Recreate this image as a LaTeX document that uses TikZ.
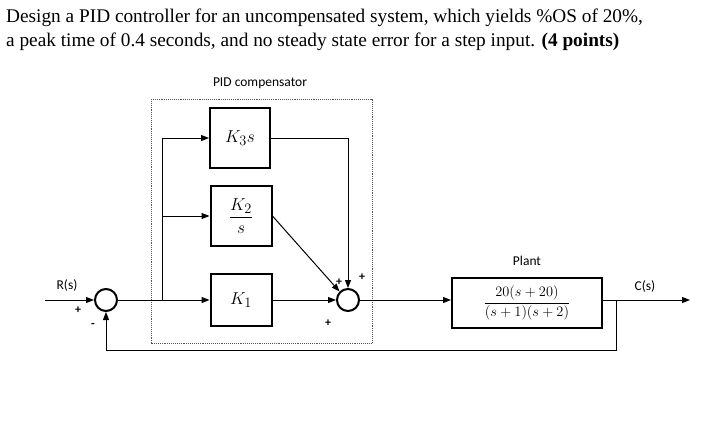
\documentclass[tikz,border=0pt]{standalone}
\usepackage{fontspec}
\setmainfont{Liberation Serif}
\newfontfamily\calfont{Carlito}
\usetikzlibrary{arrows.meta}
\begin{document}
\begin{tikzpicture}[x=1pt,y=-1pt,
  blk/.style={draw,line width=2pt,inner sep=0pt},
  sum/.style={draw,circle,line width=2pt,minimum size=22pt,inner sep=0pt},
  lab/.style={font=\calfont\fontsize{13.5}{13.5}\selectfont},
  pm/.style={font=\calfont\fontsize{12}{12}\selectfont\bfseries},
  sig/.style={-{Triangle[length=8pt,width=6pt]},line width=1pt}]
\useasboundingbox (0,0) rectangle (705,421);
\node[anchor=base west,font=\fontsize{19.3}{19.3}\selectfont,inner sep=0pt] (t1) at (6,22) {Design a PID controller for an uncompensated system, which yields \%OS of 20\%,};
\node[anchor=base west,font=\fontsize{19.3}{19.3}\selectfont,inner sep=0pt] (t2) at (6,46) {a peak time of 0.4 seconds, and no steady state error for a step input. \textbf{(4 points)}};
\node[lab] (pidl) at (260,83) {PID compensator};
\draw[densely dotted,line width=0.9pt,gray!70!black] (151,99) rectangle (372,343);
\node[blk,minimum width=60pt,minimum height=60pt] (k3) at (240,138) {\fontsize{19}{19}\selectfont$K_3s$};
\node[blk,minimum width=61pt,minimum height=60pt] (k2) at (241,216) {\fontsize{19}{19}\selectfont$\displaystyle\frac{K_2}{s}$};
\node[blk,minimum width=61pt,minimum height=52pt] (k1) at (241,300) {\fontsize{19}{19}\selectfont$K_1$};
\node[sum] (s1) at (106,300) {};
\node[sum] (s2) at (348,300) {};
\node[blk,minimum width=150pt,minimum height=50pt] (p) at (527,303)
  {\fontsize{15.5}{17}\selectfont$\displaystyle\frac{20(s+20)}{(s+1)(s+2)}$};
\node[lab] (pl) at (527,261) {Plant};
\node[lab] (rs) at (67,285) {R(s)};
\node[lab] (cs) at (645,286) {C(s)};
\coordinate (in) at (45,300);
\coordinate (out) at (690,300);
\coordinate (br) at (162,300);
\coordinate (fb) at (616,300);
\draw[sig] (in) -- (s1);
\draw[sig] (s1) -- (k1);
\draw[line width=1pt] (br) -- (br |- k3);
\draw[sig] (br |- k3) -- (k3);
\draw[sig] (br |- k2) -- (k2);
\draw[sig] (k1) -- (s2);
\draw[sig] (k3.east) -| (s2.north);
\draw[sig] (k2.east) -- (s2.north west);
\draw[sig] (s2) -- (p.west |- s2);
\draw[sig] (p.east |- s2) -- (out);
\draw[sig] (fb) -- (616,350) -| (s1.south);
\node[pm] (p1) at (78,310) {+};
\node[pm] (m1) at (93,325) {-};
\node[pm] (p2) at (339,282) {+};
\node[pm] (p3) at (362,277) {+};
\node[pm] (p4) at (328,323) {+};
\end{tikzpicture}
\end{document}
